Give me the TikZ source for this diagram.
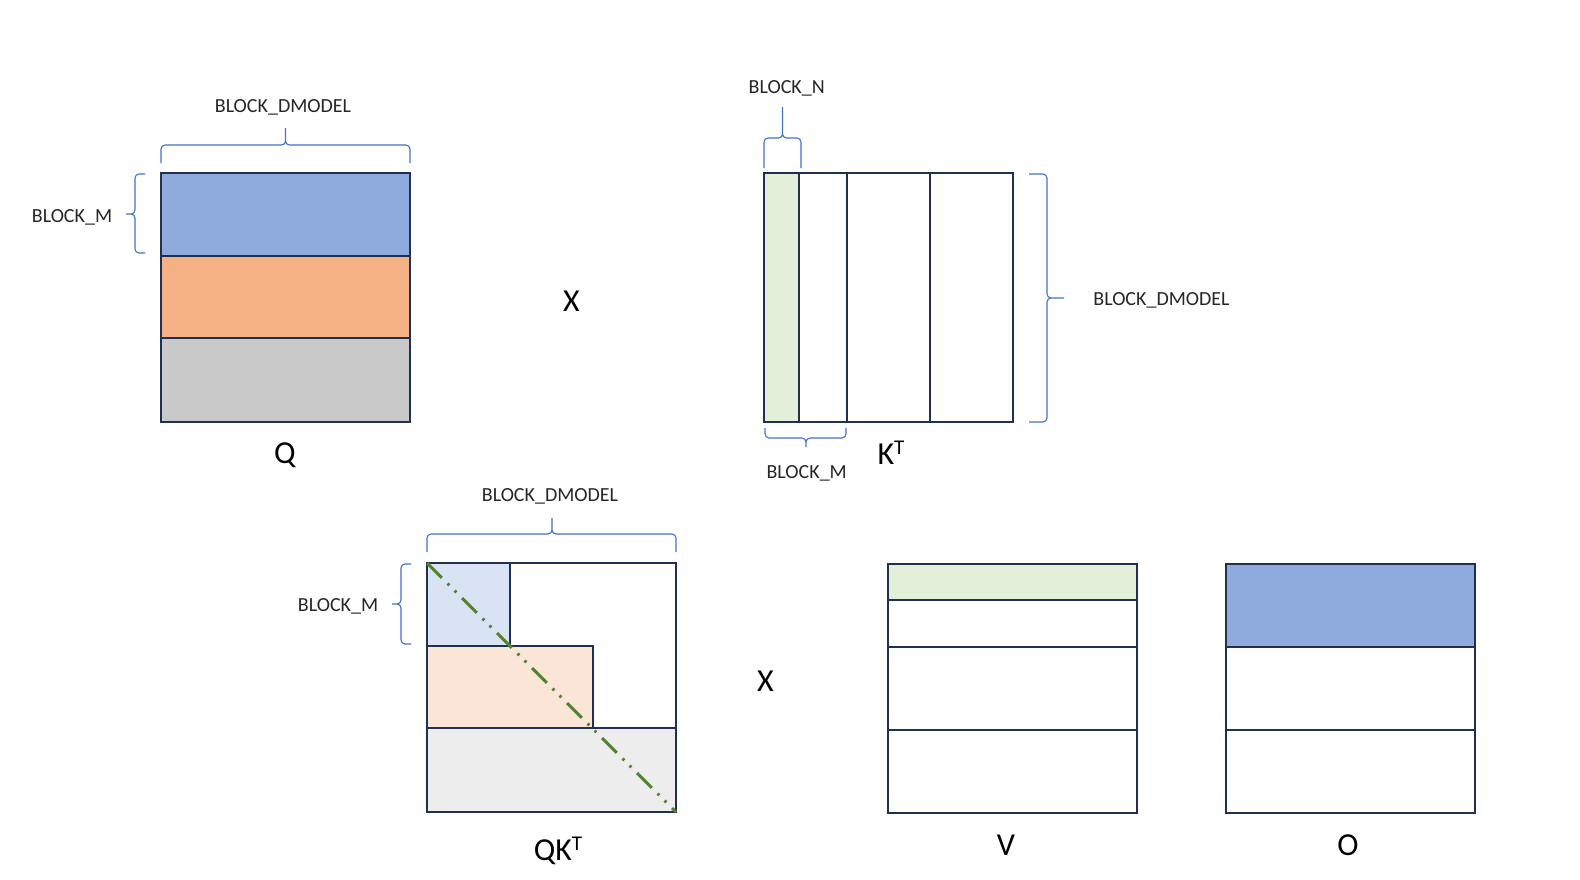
\documentclass[tikz,border=0pt]{standalone}
\usepackage{fontspec}
\setmainfont{Carlito}
\usetikzlibrary{positioning}

\definecolor{qblue}{HTML}{8FAADC}
\definecolor{qorange}{HTML}{F4B183}
\definecolor{qgray}{HTML}{C9C9C9}
\definecolor{kgreen}{HTML}{E2F0D9}
\definecolor{paleblue}{HTML}{DAE3F3}
\definecolor{palepeach}{HTML}{FBE5D6}
\definecolor{palegray}{HTML}{EDEDED}
\definecolor{gridnavy}{HTML}{1F3050}
\definecolor{braceblue}{HTML}{4472C4}
\definecolor{diaggreen}{HTML}{548235}
\definecolor{labelgray}{HTML}{262626}

\begin{document}
\begin{tikzpicture}[
  x=1pt, y=-1pt,
  cell/.style={draw=gridnavy, line width=2pt},
  bracket/.style={draw=braceblue, line width=1.1pt, rounded corners=4pt},
  dimlabel/.style={font=\fontsize{20}{24}\selectfont, text=labelgray, inner sep=0pt, anchor=base},
  matname/.style={font=\fontsize{32}{36}\selectfont, text=black, inner sep=0pt, anchor=base},
  diag/.style={draw=diaggreen, line width=3pt,
    dash pattern=on 21pt off 8pt on 2.5pt off 7.5pt on 2.5pt off 8pt}
]
\useasboundingbox (0,0) rectangle (1580,879);

% Q
\fill[qblue] (161,173) rectangle (410,256);
\fill[qorange] (161,256) rectangle (410,338);
\fill[qgray] (161,338) rectangle (410,422);
\draw[cell] (161,173) rectangle (410,422);
\draw[cell] (161,256) -- (410,256) (161,338) -- (410,338);

\draw[bracket] (161,163) -- (161,145) -- (285.5,145) -- (285.5,128)
               (410,163) -- (410,145) -- (285.5,145) -- (285.5,128);
\draw[bracket] (145,174) -- (135,174) -- (135,214) -- (126,214)
               (145,253) -- (135,253) -- (135,214) -- (126,214);

\node[dimlabel] (qdmodel) at (283,112) {BLOCK\_DMODEL};
\node[dimlabel] (qblockm) at (72,222) {BLOCK\_M};
\node[matname] (qname) at (285,463) {Q};
\node[matname] (times1) at (571.5,311) {X};

% K^T
\fill[kgreen] (764,173) rectangle (799,422);
\draw[cell] (764,173) rectangle (1013,422);
\foreach \cx in {799,847,930}
  \draw[cell] (\cx,173) -- (\cx,422);

\draw[bracket] (764,168) -- (764,138) -- (782.5,138) -- (782.5,107)
               (801,168) -- (801,138) -- (782.5,138) -- (782.5,107);
\draw[bracket] (1029,174) -- (1047,174) -- (1047,298) -- (1064,298)
               (1029,422) -- (1047,422) -- (1047,298) -- (1064,298);
\draw[bracket] (765,428) -- (765,438) -- (806,438) -- (806,447)
               (846,428) -- (846,438) -- (806,438) -- (806,447);

\node[dimlabel] (kblockn) at (786.7,93) {BLOCK\_N};
\node[dimlabel] (kdmodel) at (1161.5,305.5) {BLOCK\_DMODEL};
\node[dimlabel] (kblockm) at (806.7,478.5) {BLOCK\_M};
\node[matname] (kname) at (891,464) {K\raisebox{10pt}{\fontsize{21}{22}\selectfont T}};

% QK^T
\fill[paleblue] (427,563) rectangle (510,646);
\fill[palepeach] (427,646) rectangle (593,728);
\fill[palegray] (427,728) rectangle (676,812);
\draw[cell] (427,563) rectangle (676,812);
\draw[cell] (510,563) -- (510,646) (427,646) -- (593,646) -- (593,728)
            (427,728) -- (676,728);
\draw[diag] (427,563) -- (676,812);

\draw[bracket] (427,552) -- (427,534) -- (552,534) -- (552,518)
               (676,552) -- (676,534) -- (552,534) -- (552,518);
\draw[bracket] (411,564) -- (401,564) -- (401,604) -- (392,604)
               (411,644) -- (401,644) -- (401,604) -- (392,604);

\node[dimlabel] (sdmodel) at (550,501.5) {BLOCK\_DMODEL};
\node[dimlabel] (sblockm) at (338,611.5) {BLOCK\_M};
\node[matname] (sname) at (558,860) {QK\raisebox{10pt}{\fontsize{21}{22}\selectfont T}};
\node[matname] (times2) at (765.5,691) {X};

% V
\fill[kgreen] (888,564) rectangle (1137,600);
\draw[cell] (888,564) rectangle (1137,812.5);
\foreach \cy in {600,646.5,730}
  \draw[cell] (888,\cy) -- (1137,\cy);
\node[matname] (vname) at (1006,855) {V};

% O
\fill[qblue] (1225.5,564) rectangle (1475,646.5);
\draw[cell] (1225.5,564) rectangle (1475,812.5);
\foreach \cy in {646.5,730}
  \draw[cell] (1225.5,\cy) -- (1475,\cy);
\node[matname] (oname) at (1348,855) {O};
\end{tikzpicture}
\end{document}
